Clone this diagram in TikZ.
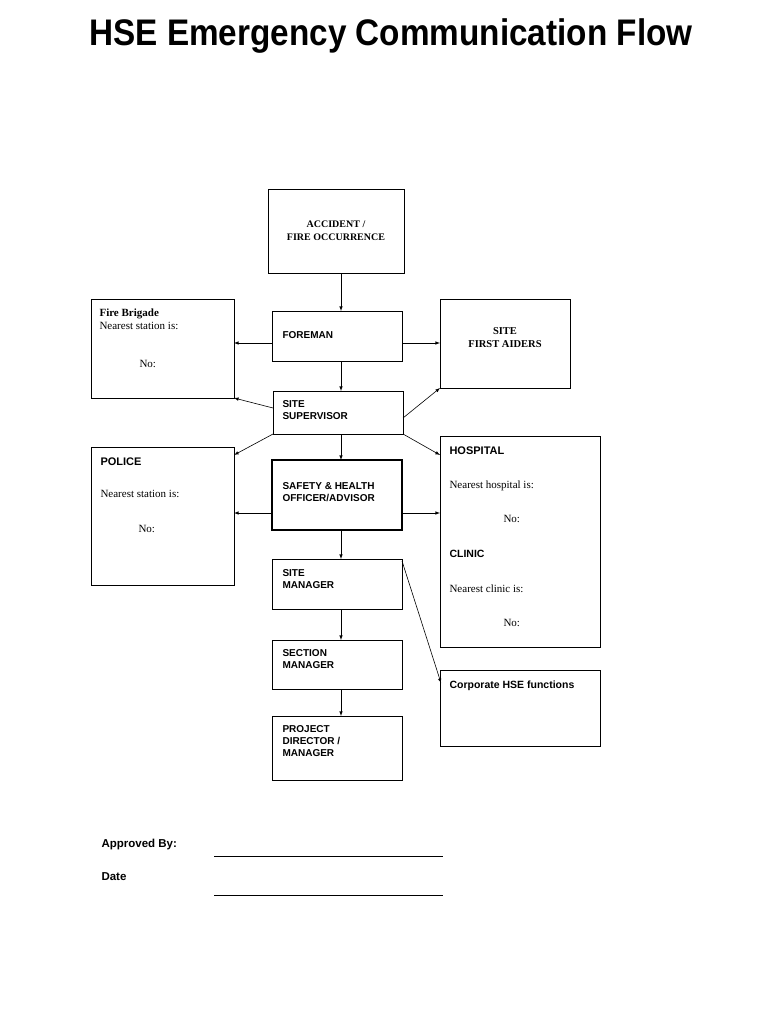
\documentclass[tikz,border=0pt]{standalone}
\usepackage{fontspec}
\setmainfont{Liberation Serif}
\setsansfont{Liberation Sans}
\begin{document}
\begin{tikzpicture}[x=1pt,y=-1pt,
  box/.style={draw,line width=0.9pt,inner sep=0pt},
  arr/.style={-latex,line width=0.6pt},
  sf/.style={font=\sffamily\bfseries\fontsize{10}{12}\selectfont,align=left,anchor=north west},
  rm/.style={font=\rmfamily\fontsize{11}{13}\selectfont,anchor=north west,align=left}]
\useasboundingbox (0,0) rectangle (768,1024);
\node[font=\sffamily\bfseries\fontsize{37}{40}\selectfont] (title) at (391,36) {\scalebox{0.9}[1]{HSE Emergency Communication Flow}};
% boxes
\draw[box] (268,189) rectangle (404,273) node[midway,font=\rmfamily\bfseries\fontsize{10}{13}\selectfont,align=center] (acc) {ACCIDENT /\\FIRE OCCURRENCE};
\draw[box] (272,311) rectangle (402,361);
\node[sf] (fore) at (279,328) {FOREMAN};
\draw[box] (91,299) rectangle (234,398);
\node[rm] (fb) at (96,305) {\textbf{Fire Brigade}\\Nearest station is:};
\node[rm] (fbno) at (136,357) {No:};
\draw[box] (440,299) rectangle (570,388);
\node[font=\rmfamily\bfseries\fontsize{10.5}{13}\selectfont,align=center] (fa) at (505,338) {SITE\\FIRST AIDERS};
\draw[box] (273,391) rectangle (403,434);
\node[sf] (sup) at (279,397) {SITE\\SUPERVISOR};
\draw[box] (91,447) rectangle (234,585);
\node[sf,font=\sffamily\bfseries\fontsize{11}{13}\selectfont] (pol) at (97,454) {POLICE};
\node[rm] (polt) at (97,487) {Nearest station is:};
\node[rm] (polno) at (135,522) {No:};
\draw[box,line width=1.3pt] (272,460) rectangle (402,530);
\node[sf] (sho) at (279,479) {SAFETY \& HEALTH\\OFFICER/ADVISOR};
\draw[box] (440,436) rectangle (600,647);
\node[sf,font=\sffamily\bfseries\fontsize{11}{13}\selectfont] (hos) at (446,443) {HOSPITAL};
\node[rm] (host) at (446,477) {Nearest hospital is:};
\node[rm] (hosno) at (500,512) {No:};
\node[sf,font=\sffamily\bfseries\fontsize{10.5}{13}\selectfont] (cli) at (446,547) {CLINIC};
\node[rm] (clit) at (446,581) {Nearest clinic is:};
\node[rm] (clino) at (500,616) {No:};
\draw[box] (272,559) rectangle (402,609);
\node[sf] (sm) at (279,566) {SITE\\MANAGER};
\draw[box] (272,640) rectangle (402,689);
\node[sf] (sec) at (279,646) {SECTION\\MANAGER};
\draw[box] (272,716) rectangle (402,780);
\node[sf] (pd) at (279,722) {PROJECT\\DIRECTOR /\\MANAGER};
\draw[box] (440,670) rectangle (600,746);
\node[sf,font=\sffamily\bfseries\fontsize{10.5}{13}\selectfont] (corp) at (446,677) {Corporate HSE functions};
% arrows
\coordinate (a1) at (341,273); \coordinate (a2) at (341,311);
\draw[arr] (a1) -- (a2);
\coordinate (f1) at (272,343); \coordinate (f2) at (234,343);
\draw[arr] (f1) -- (f2);
\coordinate (f3) at (402,343); \coordinate (f4) at (440,343);
\draw[arr] (f3) -- (f4);
\coordinate (f5) at (341,361); \coordinate (f6) at (341,391);
\draw[arr] (f5) -- (f6);
\coordinate (s1) at (273,408); \coordinate (s2) at (234,398);
\draw[arr] (s1) -- (s2);
\coordinate (s3) at (403,418); \coordinate (s4) at (440,388);
\draw[arr] (s3) -- (s4);
\coordinate (s5) at (273,434); \coordinate (s6) at (234,455);
\draw[arr] (s5) -- (s6);
\coordinate (s7) at (403,434); \coordinate (s8) at (440,455);
\draw[arr] (s7) -- (s8);
\coordinate (s9) at (341,434); \coordinate (s10) at (341,460);
\draw[arr] (s9) -- (s10);
\coordinate (h1) at (272,513); \coordinate (h2) at (234,513);
\draw[arr] (h1) -- (h2);
\coordinate (h3) at (402,513); \coordinate (h4) at (440,513);
\draw[arr] (h3) -- (h4);
\coordinate (h5) at (341,530); \coordinate (h6) at (341,559);
\draw[arr] (h5) -- (h6);
\coordinate (m1) at (341,609); \coordinate (m2) at (341,640);
\draw[arr] (m1) -- (m2);
\coordinate (m3) at (341,689); \coordinate (m4) at (341,716);
\draw[arr] (m3) -- (m4);
\coordinate (c1) at (402,561); \coordinate (c2) at (441,683);
\draw[arr] (c1) -- (c2);
% footer
\node[sf,font=\sffamily\bfseries\fontsize{11.5}{13}\selectfont] (ap) at (98,836) {Approved By:};
\node[sf,font=\sffamily\bfseries\fontsize{11.5}{13}\selectfont] (dt) at (98,869) {Date};
\coordinate (l1) at (214,856); \coordinate (l2) at (443,856);
\coordinate (l3) at (214,895); \coordinate (l4) at (443,895);
\draw[line width=0.6pt] (l1) -- (l2);
\draw[line width=0.6pt] (l3) -- (l4);
\end{tikzpicture}
\end{document}
